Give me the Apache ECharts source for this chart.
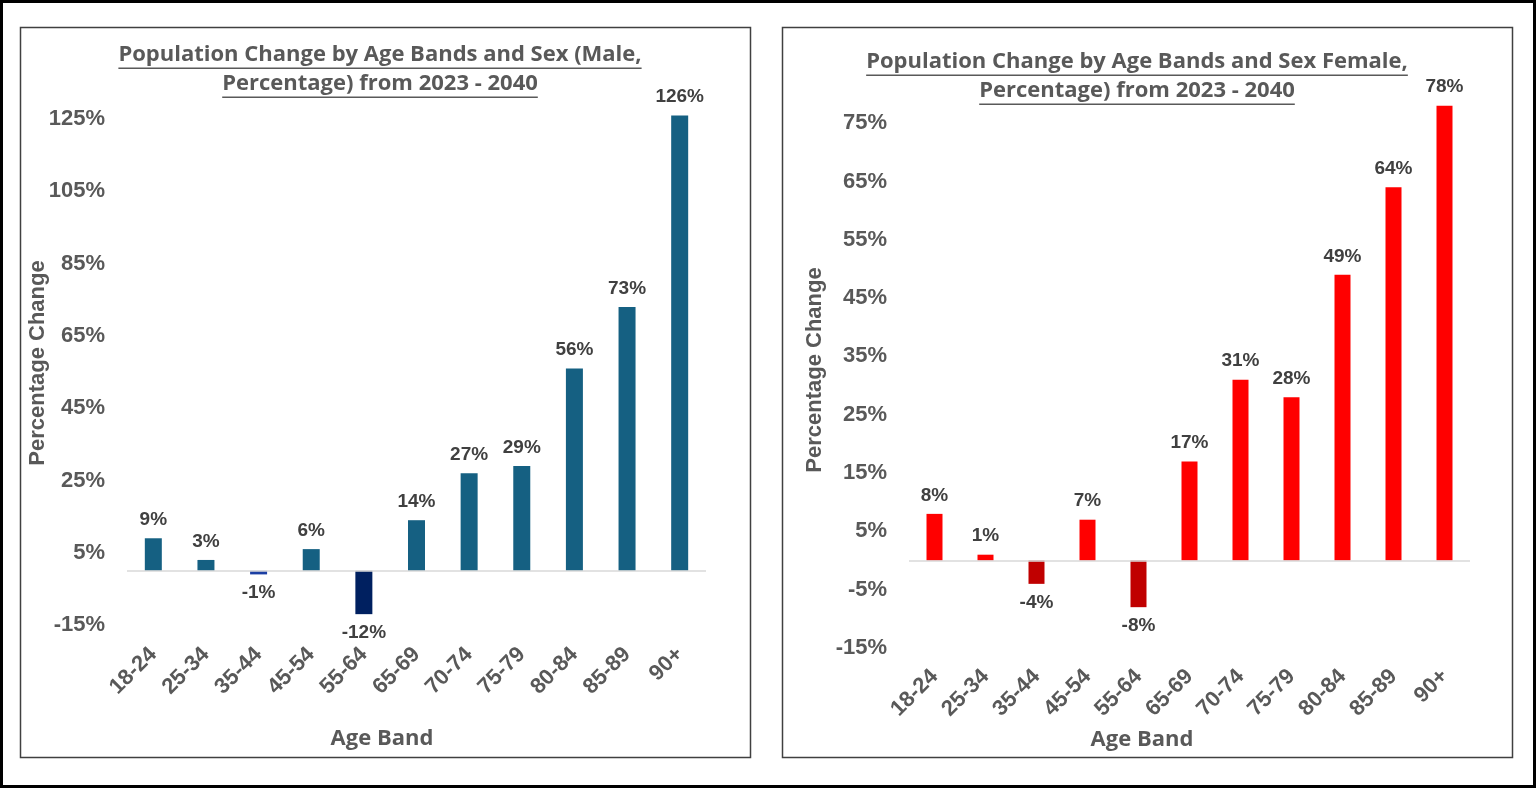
<!DOCTYPE html>
<html><head><meta charset="utf-8">
<script src="https://cdn.jsdelivr.net/npm/echarts@6/dist/echarts.min.js"></script>
<style>html,body{margin:0;padding:0;background:#fff;}#c{width:1536px;height:789px;}</style>
</head><body><div id="c"></div>
<script>
const categories = ['18-24','25-34','35-44','45-54','55-64','65-69','70-74','75-79','80-84','85-89','90+'];
const maleValues = [9, 3, -1, 6, -12, 14, 27, 29, 56, 73, 126];
const femaleValues = [8, 1, -4, 7, -8, 17, 31, 28, 49, 64, 78];
const maleTitle = ['Population Change by Age Bands and Sex (Male,', 'Percentage) from 2023 - 2040'];
const femaleTitle = ['Population Change by Age Bands and Sex Female,', 'Percentage) from 2023 - 2040'];
const yAxisTitle = 'Percentage Change';
const xAxisTitle = 'Age Band';

const maleColors = {pos:'#156082', small:'#1C3FA3', neg:'#002060'};
const femaleColors = {pos:'#FF0000', neg:'#C00000'};

const TITLE_FONT = '"Open Sans", sans-serif';
const NUM_FONT = '"Liberation Sans", Arial, sans-serif';

function mkData(vals, colorFn){
  return vals.map(v => ({
    value: v,
    itemStyle: {color: colorFn(v)},
    label: {position: v < 0 ? 'bottom' : 'top'}
  }));
}

const chart = echarts.init(document.getElementById('c'), null, {renderer:'canvas'});

const cv = document.createElement('canvas').getContext('2d');
function textW(t, size){ cv.font = 'bold ' + size + 'px "Open Sans"'; return cv.measureText(t).width; }

function titleGraphics(lines, cx, y0, lh, size){
  const g = [];
  lines.forEach((t, i) => {
    const y = y0 + i*lh;
    g.push({type:'text', x: cx, y: y, style:{text:t, font:'bold '+size+'px '+TITLE_FONT, fill:'#595959', align:'center', verticalAlign:'middle'}});
    const w = textW(t, size);
    g.push({type:'line', shape:{x1: cx - w/2, y1: y + size*0.6, x2: cx + w/2, y2: y + size*0.6}, style:{stroke:'#595959', lineWidth:1.5}});
  });
  return g;
}

const graphics = [
  {type:'rect', shape:{x:1.5,y:1.5,width:1533,height:785}, style:{fill:null, stroke:'#000', lineWidth:3}, z:-1},
  {type:'rect', shape:{x:20.5,y:27.5,width:730,height:730}, style:{fill:null, stroke:'#404040', lineWidth:1.5}, z:-1},
  {type:'rect', shape:{x:782.5,y:27.5,width:730,height:730}, style:{fill:null, stroke:'#404040', lineWidth:1.5}, z:-1},
  {type:'text', x:382, y:739, style:{text:xAxisTitle, font:'bold 22px '+TITLE_FONT, fill:'#595959', align:'center', verticalAlign:'middle'}},
  {type:'text', x:1142, y:740, style:{text:xAxisTitle, font:'bold 22px '+TITLE_FONT, fill:'#595959', align:'center', verticalAlign:'middle'}},
  {type:'text', x:38, y:363, rotation:Math.PI/2, style:{text:yAxisTitle, font:'bold 22px '+NUM_FONT, fill:'#595959', align:'center', verticalAlign:'middle'}},
  {type:'text', x:815, y:370, rotation:Math.PI/2, style:{text:yAxisTitle, font:'bold 22px '+NUM_FONT, fill:'#595959', align:'center', verticalAlign:'middle'}}
].concat(titleGraphics(maleTitle, 380, 55, 29, 22)).concat(titleGraphics(femaleTitle, 1137, 62, 29, 22));

const commonX = {
  type:'category', data:categories,
  axisLine:{show:false}, axisTick:{show:false},
  axisLabel:{rotate:45, fontFamily:NUM_FONT, fontWeight:'bold', fontSize:22, color:'#595959', interval:0}
};
const commonY = {
  type:'value', splitLine:{show:false}, axisLine:{show:false}, axisTick:{show:false},
  axisLabel:{fontFamily:NUM_FONT, fontWeight:'bold', fontSize:22, color:'#595959', margin:22, formatter: v => v + '%', showMaxLabel:false}
};
const labelCommon = {show:true, formatter: p => p.value + '%', fontFamily:NUM_FONT, fontWeight:'bold', fontSize:19, color:'#404040', distance:9};

chart.setOption({
  animation:false,
  graphic: graphics,
  grid:[
    {left:127, top:101, width:579, height:524},
    {left:909, top:94, width:561, height:554}
  ],
  xAxis:[
    Object.assign({gridIndex:0}, commonX, {axisLabel:Object.assign({}, commonX.axisLabel, {margin:26})}),
    Object.assign({gridIndex:1}, commonX, {axisLabel:Object.assign({}, commonX.axisLabel, {margin:25})})
  ],
  yAxis:[
    Object.assign({gridIndex:0, min:-15, max:130, interval:20}, commonY),
    Object.assign({gridIndex:1, min:-15, max:80, interval:10}, commonY)
  ],
  series:[
    {type:'bar', xAxisIndex:0, yAxisIndex:0, barWidth:17, label:labelCommon,
     data: mkData(maleValues, v => v < -5 ? maleColors.neg : (v < 0 ? maleColors.small : maleColors.pos)),
     markLine:{silent:true, symbol:'none', label:{show:false}, lineStyle:{color:'#D9D9D9', width:1.5, type:'solid'}, data:[{yAxis:0}]}, z:3},
    {type:'bar', xAxisIndex:1, yAxisIndex:1, barWidth:16, label:labelCommon,
     data: mkData(femaleValues, v => v < 0 ? femaleColors.neg : femaleColors.pos),
     markLine:{silent:true, symbol:'none', label:{show:false}, lineStyle:{color:'#D9D9D9', width:1.5, type:'solid'}, data:[{yAxis:0}]}, z:3}
  ]
});
</script></body></html>
